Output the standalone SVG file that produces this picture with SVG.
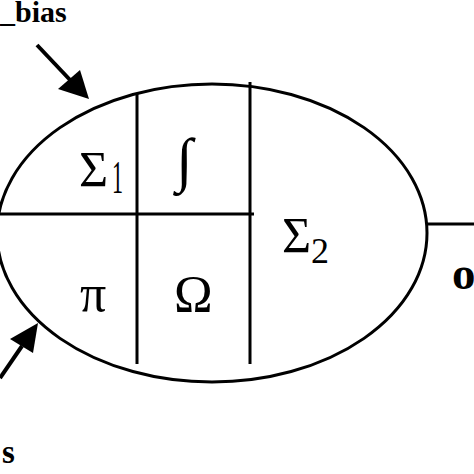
<svg xmlns="http://www.w3.org/2000/svg" width="474" height="474" viewBox="0 0 474 474">
<style>
.ln{stroke:#000;stroke-width:3;fill:none}
.ar{stroke:#000;stroke-width:4;fill:none}
.hd{fill:#000}
.lbl{font-weight:bold;fill:#000}
.sym{fill:#000}
</style>
<rect width="474" height="474" fill="#fff"/>
<g id="neuron">
<ellipse class="ln" cx="212" cy="233" rx="215" ry="149"/>
<line class="ln" x1="137" y1="93" x2="137" y2="364"/>
<line class="ln" x1="250" y1="82" x2="250" y2="364"/>
<line class="ln" x1="0" y1="214" x2="254" y2="214"/>
<g font-family="Liberation Serif, Times New Roman, serif">
<text class="sym" x="79" y="186" font-size="50">Σ</text>
<text class="sym" x="112" y="193" font-size="46" textLength="11" lengthAdjust="spacingAndGlyphs">1</text>
<text class="sym" x="176" y="180" font-size="60">∫</text>
<text class="sym" x="80" y="311" font-size="52">π</text>
<text class="sym" x="174" y="312" font-size="52">Ω</text>
<text class="sym" x="282" y="252" font-size="50">Σ</text>
<text class="sym" x="311" y="263" font-size="36">2</text>
</g>
</g>
<g id="connectors">
<line class="ar" x1="37" y1="45" x2="72" y2="82"/>
<polygon class="hd" points="89,99 58,89 80,70"/>
<line class="ar" x1="0" y1="378" x2="22" y2="346"/>
<polygon class="hd" points="38,323 10,339 33,353"/>
<line class="ln" x1="427" y1="224" x2="474" y2="224"/>
</g>
<g id="labels" font-family="Liberation Serif, Times New Roman, serif">
<text class="lbl" x="0" y="22" font-size="30">_bias</text>
<text class="lbl" x="2" y="463" font-size="33">s</text>
<text class="lbl" x="452" y="289" font-size="47">o</text>
</g>
</svg>
